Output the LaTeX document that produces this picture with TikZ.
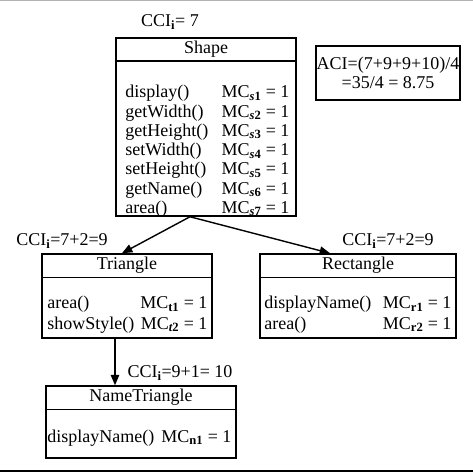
\documentclass[tikz,border=0pt]{standalone}
\usepackage{fontspec}
\setmainfont{Liberation Serif}
\usetikzlibrary{arrows}

\newcommand{\mcs}[1]{MC\textsubscript{\bfseries #1}}
\renewcommand{\arraystretch}{1.04}

\tikzset{
  classbox/.style={draw, line width=1.5pt, inner sep=0pt},
  header/.style={anchor=north, minimum height=24pt, inner sep=0pt},
  body/.style={anchor=south west, inner sep=0pt, align=left},
  cci/.style={inner sep=0pt},
  link/.style={->, line width=1.4pt}
}

\begin{document}
\begin{tikzpicture}[x=1pt, y=-1pt, >=triangle 45,
    every node/.style={font=\fontsize{18}{18.5}\selectfont}]
	\useasboundingbox (0,0) rectangle (473,473);
	\draw[gray!60, line width=1pt] (0,1) -- (473,1);
	\draw[line width=2pt] (0,471) -- (473,471);

	% class boxes
	\node[classbox, minimum width=180pt, minimum height=178pt] (shape) at (206,127) {};
	\node[classbox, minimum width=170pt, minimum height=84pt] (tri) at (127,296) {};
	\node[classbox, minimum width=196pt, minimum height=84pt] (rect) at (358,296) {};
	\node[classbox, minimum width=190pt, minimum height=72pt] (ntri) at (141,422) {};
	\node[classbox, minimum width=144pt, minimum height=54pt, align=center] (aci) at (388,73)
		{ACI=(7+9+9+10)/4\\=35/4 = 8.75};

	% header lines and names
	\foreach \c/\cname in {shape/Shape,tri/Triangle,rect/Rectangle,ntri/NameTriangle}{
		\draw[line width=1.5pt] ([yshift=-24pt]\c.north west) -- ([yshift=-24pt]\c.north east);
		\node[header] (\c head) at (\c.north) {\cname};
	}

	% methods
	\node[body] (shapebody) at ([shift={(10,2.5)}]shape.south west)
		{\begin{tabular*}{164pt}{@{}l@{\extracolsep{\fill}}r@{}}
		display() & \mcs{\itshape s\upshape 1} = 1\\
		getWidth() & \mcs{\itshape s\upshape 2} = 1\\
		getHeight() & \mcs{\itshape s\upshape 3} = 1\\
		setWidth() & \mcs{\itshape s\upshape 4} = 1\\
		setHeight() & \mcs{\itshape s\upshape 5} = 1\\
		getName() & \mcs{\itshape s\upshape 6} = 1\\
		area() & \mcs{\itshape s\upshape 7} = 1
		\end{tabular*}};
	\node[body] (tribody) at ([shift={(6,-3.5)}]tri.south west)
		{\begin{tabular*}{160pt}{@{}l@{\extracolsep{\fill}}r@{}}
		area() & \mcs{t1} = 1\\[1.5pt]
		showStyle() & \mcs{\itshape t\upshape 2} = 1
		\end{tabular*}};
	\node[body] (rectbody) at ([shift={(5,-3.5)}]rect.south west)
		{\begin{tabular*}{187pt}{@{}l@{\extracolsep{\fill}}r@{}}
		displayName() & \mcs{r1} = 1\\[1.5pt]
		area() & \mcs{r2} = 1
		\end{tabular*}};
	\node[body] (ntribody) at ([shift={(2,-10.5)}]ntri.south west)
		{\begin{tabular*}{184pt}{@{}l@{\extracolsep{\fill}}r@{}}
		displayName() & \mcs{n1} = 1
		\end{tabular*}};

	% complexity labels
	\node[cci] (ccishape) at (170,22) {CCI\textsubscript{\bfseries i}= 7};
	\node[cci] (ccitri) at (62,241) {CCI\textsubscript{\bfseries i}=7+2=9};
	\node[cci] (ccirect) at (388,241) {CCI\textsubscript{\bfseries i}=7+2=9};
	\node[cci] (ccintri) at (180,373) {CCI\textsubscript{\bfseries i}=9+1= 10};

	% inheritance
	\coordinate (sfoot) at ([xshift=-16pt]shape.south);
	\coordinate (tfoot) at ([xshift=-12pt]tri.south);
	\draw[link] (sfoot) -- ([xshift=-5pt]tri.north);
	\draw[link] (sfoot) -- ([xshift=-28pt]rect.north);
	\draw[link] (tfoot) -- (tfoot |- ntri.north);
\end{tikzpicture}
\end{document}
